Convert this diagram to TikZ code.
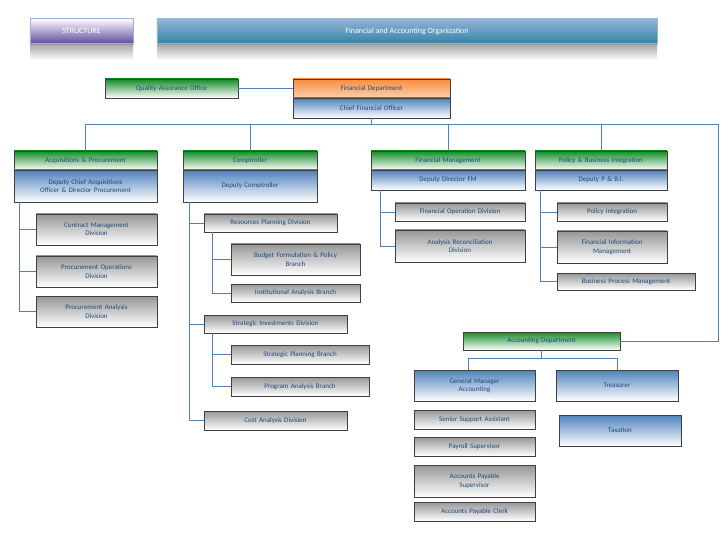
\documentclass[tikz,border=0pt]{standalone}
\usepackage{fontspec}
\setmainfont{Carlito}
\usetikzlibrary{calc,shadows}
\definecolor{linkcolor}{RGB}{79,129,189}
\definecolor{textcolor}{RGB}{31,73,125}
\definecolor{greencolor}{RGB}{20,140,40}
\definecolor{orangecolor}{RGB}{247,140,60}
\definecolor{bluecolor}{RGB}{79,129,189}
\definecolor{graycolor}{RGB}{150,150,150}
\definecolor{purplecolor}{RGB}{96,74,160}
\definecolor{tealcolor}{RGB}{49,133,165}
\tikzset{
  %% box : any organisation box
  box/.style={
    rectangle,
    draw=black!75,
    inner sep=0pt,
    align=center,
    text=textcolor,
    font=\fontsize{7}{8.5}\selectfont,
    drop shadow={shadow xshift=1.2bp, shadow yshift=-1.2bp, opacity=0.35}
  },
  %% head : green header
  head/.style={box, top color=greencolor, bottom color=white},
  %% dept : orange department header
  dept/.style={box, top color=orangecolor, bottom color=orangecolor!40},
  %% body : blue position box
  body/.style={box, top color=bluecolor, bottom color=white},
  %% unit : gray division box
  unit/.style={box, top color=graycolor, bottom color=white},
  %% link : connector line
  link/.style={linkcolor, line width=0.8pt}
}
% a box given by its corners (x1,y1) (x2,y2) in pixels
\newcommand{\obox}[7]{%
  \node (#1) [#2, minimum width={(#5-#3)*1bp}, minimum height={(#6-#4)*1bp},
    text width={(#5-#3-4)*1bp}] at ({(#3+#5)/2},{(#4+#6)/2}) {#7};}

\begin{document}
\begin{tikzpicture}
  [x=1bp,
  y=-1bp]
  \useasboundingbox (0,0) rectangle (728,546);

  %% Title bars
  \fill [top color=black!35, bottom color=white] (30,44) rectangle (133,60);
  \fill [top color=black!35, bottom color=white] (157,44) rectangle (657,60);
  \node (structure) [box, draw=linkcolor!60, top color=white, bottom color=purplecolor,
    minimum width=103bp, minimum height=25bp, text=white,
    font=\fontsize{8}{9}\selectfont] at (81.5,31) {STRUCTURE};
  \node (title) [box, draw=linkcolor!60, top color=linkcolor!60, bottom color=tealcolor,
    minimum width=500bp, minimum height=25bp, text=white,
    font=\fontsize{8}{9}\selectfont] at (407,31) {Financial and Accounting Organization};

  %% Top
  \obox{qa}{head}{105}{79}{238}{98}{Quality Assurance Office}
  \obox{fin}{dept}{293}{79}{450}{98}{Financial Department}
  \obox{cfo}{body}{293}{98}{450}{118}{Chief Financial Officer}

  %% Directorates
  \obox{acq}{head}{14}{151}{157}{170}{Acquisitions \& Procurement}
  \obox{acqb}{body}{14}{170}{157}{202}{Deputy Chief Acquisitions\\Officer \& Director Procurement}
  \obox{comp}{head}{183}{151}{317}{170}{Comptroller}
  \obox{compb}{body}{183}{170}{317}{202}{Deputy Comptroller\\[9bp]}
  \obox{fm}{head}{371}{151}{525}{170}{Financial Management}
  \obox{fmb}{body}{371}{170}{525}{190}{Deputy Director FM}
  \obox{pol}{head}{535}{151}{667}{170}{Policy \& Business Integration}
  \obox{polb}{body}{535}{170}{667}{190}{Deputy P \& B.I.}

  %% Acquisitions & Procurement
  \obox{contract}{unit}{36}{214}{157}{245}{Contract Management\\Division}
  \obox{procops}{unit}{36}{256}{157}{287}{Procurement Operations\\Division}
  \obox{procana}{unit}{36}{296}{157}{327}{Procurement Analysis\\Division}

  %% Comptroller
  \obox{resplan}{unit}{204}{214}{337}{232}{Resources Planning Division}
  \obox{budget}{unit}{231}{244}{360}{275}{Budget Formulation \& Policy\\Branch}
  \obox{instana}{unit}{231}{284}{360}{302}{Institutional Analysis Branch}
  \obox{stratinv}{unit}{204}{315}{347}{333}{Strategic Investments Division}
  \obox{stratplan}{unit}{231}{345}{369}{364}{Strategic Planning Branch}
  \obox{progana}{unit}{231}{377}{369}{396}{Program Analysis Branch}
  \obox{costana}{unit}{204}{411}{347}{430}{Cost Analysis Division}

  %% Financial Management
  \obox{finops}{unit}{395}{203}{525}{221}{Financial Operation Division}
  \obox{anarec}{unit}{395}{230}{525}{262}{Analysis Reconciliation\\Division}

  %% Policy & Business Integration
  \obox{polint}{unit}{557}{203}{667}{221}{Policy Integration}
  \obox{finfo}{unit}{557}{231}{667}{263}{Financial Information\\Management}
  \obox{bpm}{unit}{557}{273}{695}{290}{Business Process Management}

  %% Accounting
  \obox{acct}{head}{463}{332}{620}{350}{Accounting Department}
  \obox{gma}{body}{414}{370}{535}{401}{General Manager\\Accounting}
  \obox{treas}{body}{556}{370}{678}{401}{Treasurer\\[9bp]}
  \obox{senior}{unit}{414}{410}{535}{429}{Senior Support Assistant}
  \obox{payroll}{unit}{414}{437}{535}{456}{Payroll Supervisor}
  \obox{apsup}{unit}{414}{465}{535}{497}{Accounts Payable\\Supervisor}
  \obox{apclerk}{unit}{414}{502}{535}{521}{Accounts Payable Clerk}
  \obox{tax}{body}{559}{415}{681}{446}{Taxation\\[9bp]}

  %% Connections
  \coordinate (bus) at (718,124);
  \coordinate (acctbus) at (541,358);
  \begin{scope}[on background layer/.style={}]
  \draw [link] (qa) -- (fin);
  \draw [link] (cfo.south) -- (cfo.south |- bus);
  \draw [link] (acq.north) -- (acq.north |- bus) -- (bus) |- (acct.east);
  \draw [link] (comp.north) -- (comp.north |- bus);
  \draw [link] (fm.north) -- (fm.north |- bus);
  \draw [link] (pol.north) -- (pol.north |- bus);

  \foreach \c in {contract, procops, procana}
    \draw [link] ([xshift=6bp]acqb.south west) |- (\c.west);
  \foreach \c in {resplan, stratinv, costana}
    \draw [link] ([xshift=7bp]compb.south west) |- (\c.west);
  \foreach \c in {budget, instana}
    \draw [link] ([xshift=9bp]resplan.south west) |- (\c.west);
  \foreach \c in {stratplan, progana}
    \draw [link] ([xshift=9bp]stratinv.south west) |- (\c.west);
  \foreach \c in {finops, anarec}
    \draw [link] ([xshift=10bp]fmb.south west) |- (\c.west);
  \foreach \c in {polint, finfo, bpm}
    \draw [link] ([xshift=6bp]polb.south west) |- (\c.west);

  \draw [link] (acct.south) -- (acct.south |- acctbus);
  \draw [link] ([xshift=-73bp]acctbus) -- ([xshift=76bp]acctbus);
  \draw [link] ([xshift=-73bp]acctbus) -- ([xshift=-73bp]acctbus |- gma.north);
  \draw [link] ([xshift=76bp]acctbus) -- ([xshift=76bp]acctbus |- treas.north);
  \end{scope}
\end{tikzpicture}
\end{document}
